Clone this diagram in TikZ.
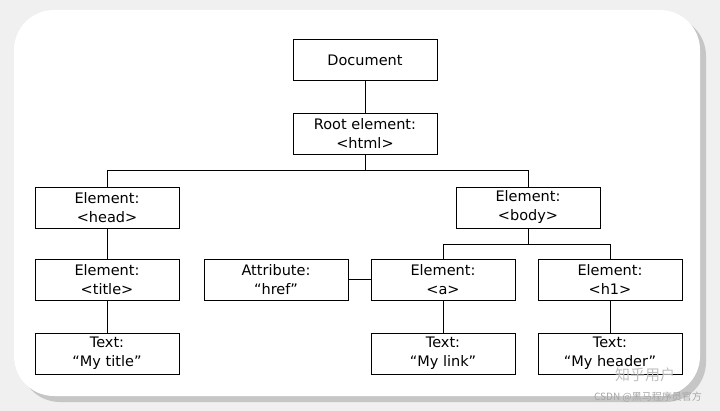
\documentclass[tikz,border=0pt]{standalone}
\usepackage{fontspec}
\setmainfont{DejaVu Sans}
\newfontfamily\cjkf{Noto Sans CJK SC}
\usetikzlibrary{calc}
\tikzset{box/.style={draw,line width=0.9pt,minimum width=144pt,minimum height=41pt,inner sep=0pt,align=center,font=\fontsize{14.5}{19}\selectfont},
 ln/.style={line width=0.9pt}}
\begin{document}
\begin{tikzpicture}[x=1pt,y=-1pt]
\useasboundingbox (0,0) rectangle (720,411);
\fill[gray!12] (0,0) rectangle (720,411);
\fill[gray!45,rounded corners=40pt] (20,16) rectangle (706,402);
\fill[white,rounded corners=40pt] (14,10) rectangle (700,396);
\node[box] (doc) at (365,60) {Document};
\node[box] (root) at (365,133.5) {Root element:\\<html>};
\node[box] (head) at (107,207.5) {Element:\\<head>};
\node[box] (body) at (528,207.5) {Element:\\<body>};
\node[box] (title) at (107,279.5) {Element:\\<title>};
\node[box] (attr) at (276,279.5) {Attribute:\\“href”};
\node[box] (a) at (443,279.5) {Element:\\<a>};
\node[box] (h1) at (610,279.5) {Element:\\<h1>};
\node[box] (t1) at (107,353.5) {Text:\\“My title”};
\node[box] (t2) at (443,353.5) {Text:\\“My link”};
\node[box] (t3) at (610,353.5) {Text:\\“My header”};
\coordinate (j1) at (365,170);
\coordinate (j2) at (528,244);
\draw[ln] (doc) -- (root);
\draw[ln] (root) -- (j1) -| (head);
\draw[ln] (j1) -| (body);
\draw[ln] (body) -- (j2) -| (a);
\draw[ln] (j2) -| (h1);
\draw[ln] (head) -- (title);
\draw[ln] (title) -- (t1);
\draw[ln] (attr) -- (a);
\draw[ln] (a) -- (t2);
\draw[ln] (h1) -- (t3);
\node[gray!50,font=\cjkf\fontsize{15}{16}\selectfont] (wm1) at (645,375) {知乎用户};
\node[gray!70,font=\cjkf\fontsize{10}{11}\selectfont] (wm) at (648,397) {CSDN @黑马程序员官方};
\end{tikzpicture}
\end{document}
